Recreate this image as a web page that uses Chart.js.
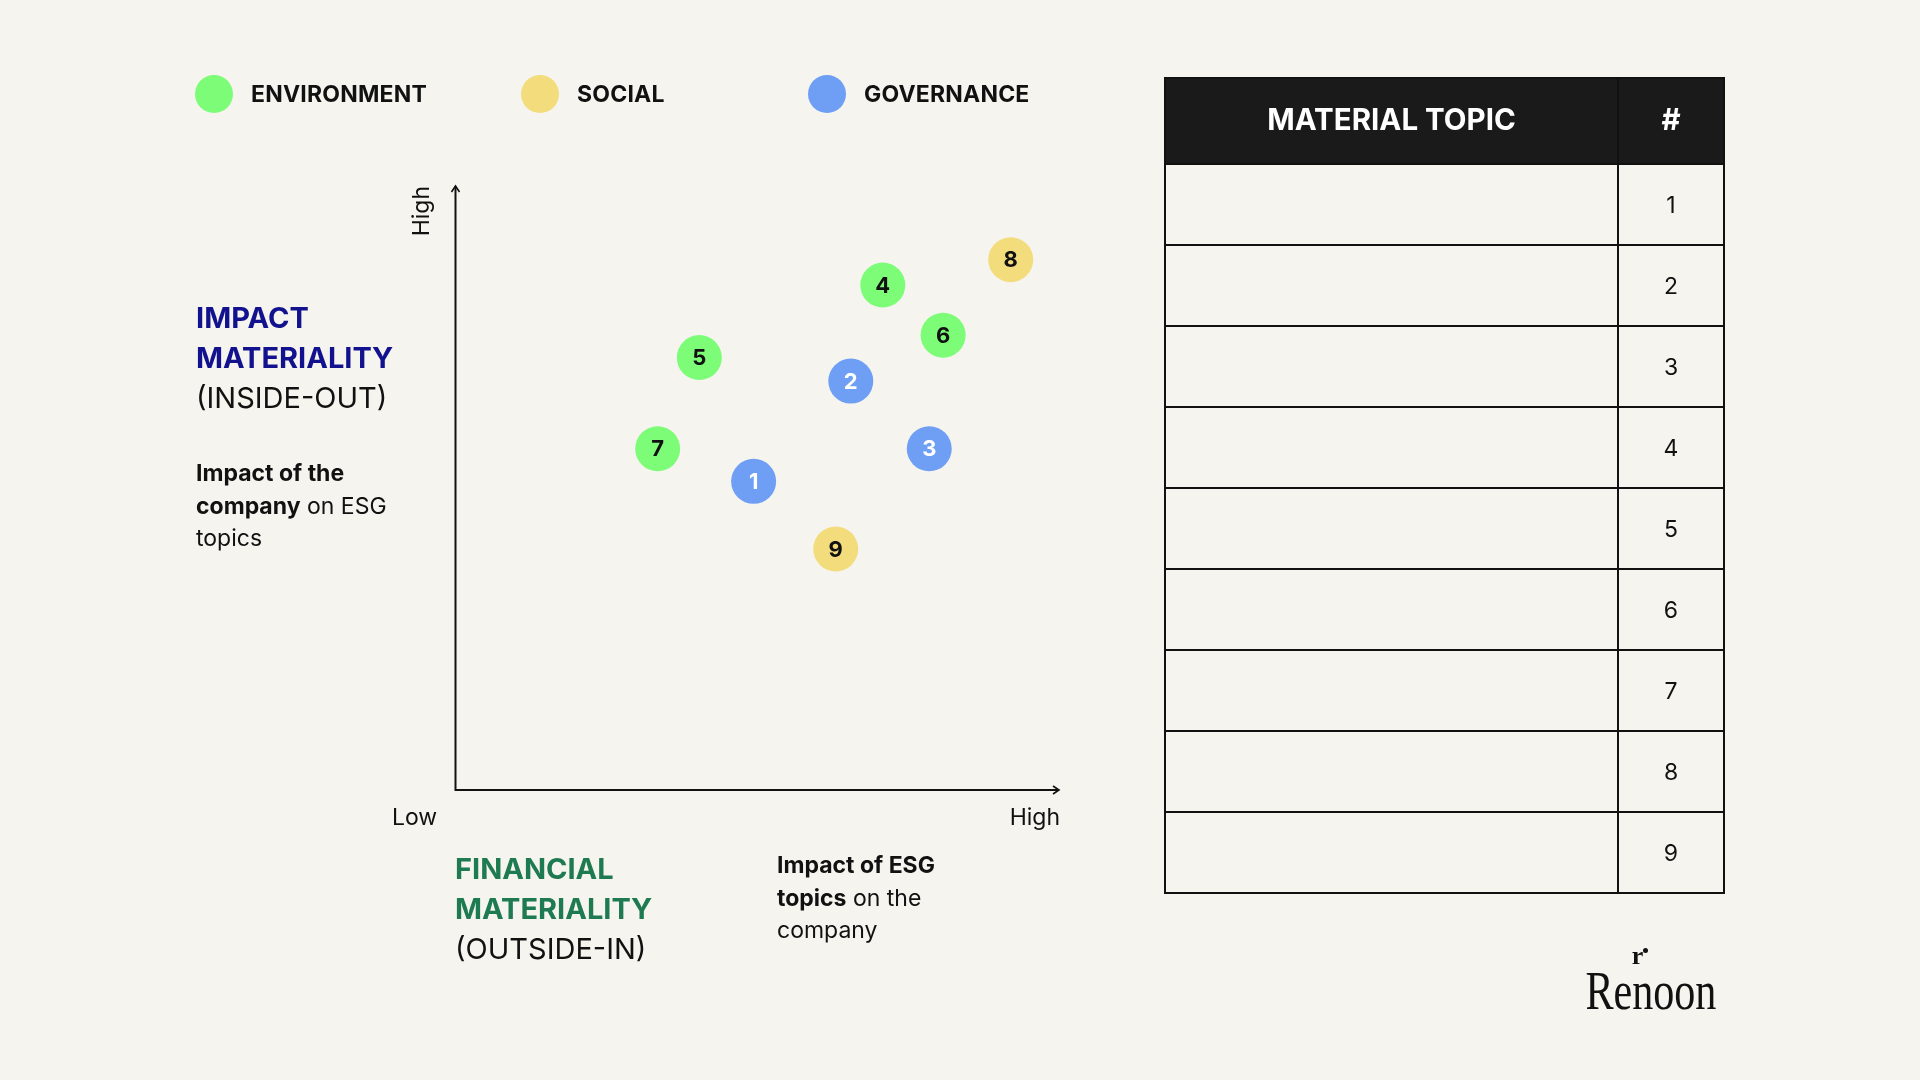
<!DOCTYPE html>
<html>
<head>
<meta charset="utf-8">
<script src="https://cdn.jsdelivr.net/npm/chart.js@4.4.1/dist/chart.umd.min.js"></script>
<style>
  html, body { margin: 0; padding: 0; background: #f5f4ee; }
  body { width: 1920px; height: 1080px; position: relative; overflow: hidden; font-family: Inter, "Noto Sans", sans-serif; color: #111; }
  #chartWrap { position: absolute; left: 0; top: 0; width: 1920px; height: 1080px; }
  .legend-item { position: absolute; top: 75px; height: 38px; display: flex; align-items: center; font-weight: 700; font-size: 23px; letter-spacing: 0.2px; }
  .legend-item .dot { width: 38px; height: 38px; border-radius: 50%; margin-right: 18px; }
  .block { position: absolute; line-height: 40px; }
  .title { font-weight: 700; font-size: 29px; }
  .sub { font-size: 29px; font-weight: 400; }
  .desc { position: absolute; font-size: 23px; line-height: 32.5px; }
  table { position: absolute; left: 1164px; top: 77px; border-collapse: collapse; }
  td, th { border: 2px solid #111; text-align: center; padding: 0; }
  th { background: #1a1a1a; color: #fff; font-size: 29.5px; font-weight: 700; height: 80px; padding-bottom: 4px; }
  td { height: 79px; font-size: 23px; }
  .logo { position: absolute; left: 1570px; top: 946px; width: 140px; text-align: center; font-family: "Liberation Serif", serif; }
</style>
</head>
<body>
<div id="chartWrap"><canvas id="matrix"></canvas></div>

<div class="legend-item" style="left:195px"><span class="dot" style="background:#7dfc78"></span>ENVIRONMENT</div>
<div class="legend-item" style="left:521px"><span class="dot" style="background:#f3dc7b"></span>SOCIAL</div>
<div class="legend-item" style="left:808px"><span class="dot" style="background:#6f9ef5"></span>GOVERNANCE</div>

<div class="block" style="left:196px; top:298px;">
  <div class="title" style="color:#12128f">IMPACT</div>
  <div class="title" style="color:#12128f">MATERIALITY</div>
  <div class="sub">(INSIDE-OUT)</div>
</div>
<div class="desc" style="left:196px; top:457px;"><b>Impact of the<br>company</b> on ESG<br>topics</div>

<div class="block" style="left:455px; top:849px;">
  <div class="title" style="color:#1e7a50">FINANCIAL</div>
  <div class="title" style="color:#1e7a50">MATERIALITY</div>
  <div class="sub">(OUTSIDE-IN)</div>
</div>
<div class="desc" style="left:777px; top:849px;"><b>Impact of ESG<br>topics</b> on the<br>company</div>

<table id="topicTable">
  <thead><tr><th style="width:451px">MATERIAL TOPIC</th><th style="width:104px">#</th></tr></thead>
  <tbody></tbody>
</table>

<div class="logo">
  <div style="font-size:26px; font-weight:700; line-height:20px;">r<span style="display:inline-block;width:5px;height:5px;border-radius:50%;background:#111;vertical-align:top;margin-top:2px"></span></div>
  <div style="font-size:54px; line-height:50px; transform:scaleX(0.78); transform-origin:center;">Renoon</div>
</div>

<script>
// Topic data
const topicIds = [1, 2, 3, 4, 5, 6, 7, 8, 9];
const topicGroup = ['GOVERNANCE', 'GOVERNANCE', 'GOVERNANCE', 'ENVIRONMENT', 'ENVIRONMENT', 'ENVIRONMENT', 'ENVIRONMENT', 'SOCIAL', 'SOCIAL'];
const financialScore = [4.94, 6.55, 7.85, 7.08, 4.04, 8.08, 3.35, 9.20, 6.30];
const impactScore = [5.11, 6.77, 5.65, 8.36, 7.16, 7.53, 5.65, 8.78, 3.99];

const groupNames = ['ENVIRONMENT', 'SOCIAL', 'GOVERNANCE'];
const groupColors = { ENVIRONMENT: '#7dfc78', SOCIAL: '#f3dc7b', GOVERNANCE: '#6f9ef5' };
const labelColors = { ENVIRONMENT: '#111111', SOCIAL: '#111111', GOVERNANCE: '#ffffff' };

const axisLow = 'Low';
const axisHigh = 'High';

// Table rows
document.querySelector('#topicTable tbody').innerHTML = topicIds.map(id => `
  <tr><td></td><td>${id}</td></tr>
`).join('');

/**
 * Build one dataset per ESG group
 */
const datasets = groupNames.map(group => {
    const points = [];
    topicIds.forEach((id, i) => {
        if (topicGroup[i] === group) {
            points.push({ x: financialScore[i], y: impactScore[i], id });
        }
    });
    return {
        label: group,
        data: points,
        backgroundColor: groupColors[group],
        borderWidth: 0,
        pointRadius: 22.5,
        pointHoverRadius: 22.5
    };
});

// Draws the arrowed axes, Low/High labels and the numbers inside the dots
const matrixDecor = {
    id: 'matrixDecor',
    beforeDatasetsDraw(chart) {
        const { ctx, scales: { x, y } } = chart;
        const x0 = x.getPixelForValue(0), x1 = x.getPixelForValue(10);
        const y0 = y.getPixelForValue(0), y1 = y.getPixelForValue(10);
        ctx.save();
        ctx.strokeStyle = '#111';
        ctx.lineWidth = 2;
        ctx.beginPath();
        ctx.moveTo(x0, y1);
        ctx.lineTo(x0, y0);
        ctx.lineTo(x1, y0);
        ctx.stroke();
        // arrow heads
        ctx.lineWidth = 1.6;
        ctx.beginPath();
        ctx.moveTo(x0 - 4, y1 + 6); ctx.lineTo(x0, y1); ctx.lineTo(x0 + 4, y1 + 6);
        ctx.moveTo(x1 - 6, y0 - 4); ctx.lineTo(x1, y0); ctx.lineTo(x1 - 6, y0 + 4);
        ctx.stroke();

        ctx.fillStyle = '#111';
        ctx.font = '400 23px Inter';
        ctx.textBaseline = 'middle';
        ctx.textAlign = 'center';
        ctx.fillText(axisLow, x0 - 41, y0 + 28);
        ctx.textAlign = 'right';
        ctx.fillText(axisHigh, x1 + 1, y0 + 28);
        ctx.translate(x0 - 33, y1);
        ctx.rotate(-Math.PI / 2);
        ctx.textAlign = 'right';
        ctx.fillText(axisHigh, 0, 0);
        ctx.restore();
    },
    afterDatasetsDraw(chart) {
        const { ctx } = chart;
        ctx.save();
        ctx.font = '700 22px Inter';
        ctx.textAlign = 'center';
        ctx.textBaseline = 'middle';
        chart.data.datasets.forEach((ds, di) => {
            chart.getDatasetMeta(di).data.forEach((pt, i) => {
                ctx.fillStyle = labelColors[ds.label];
                ctx.fillText(String(ds.data[i].id), pt.x, pt.y + 1);
            });
        });
        ctx.restore();
    }
};

new Chart(document.getElementById('matrix').getContext('2d'), {
    type: 'scatter',
    data: { datasets },
    options: {
        responsive: true,
        maintainAspectRatio: false,
        animation: false,
        layout: { padding: { left: 455.5, top: 186, right: 861, bottom: 290 } },
        plugins: { legend: { display: false }, tooltip: { enabled: false } },
        scales: {
            x: { type: 'linear', min: 0, max: 10, display: false },
            y: { type: 'linear', min: 0, max: 10, display: false }
        }
    },
    plugins: [matrixDecor]
});
</script>
</body>
</html>
